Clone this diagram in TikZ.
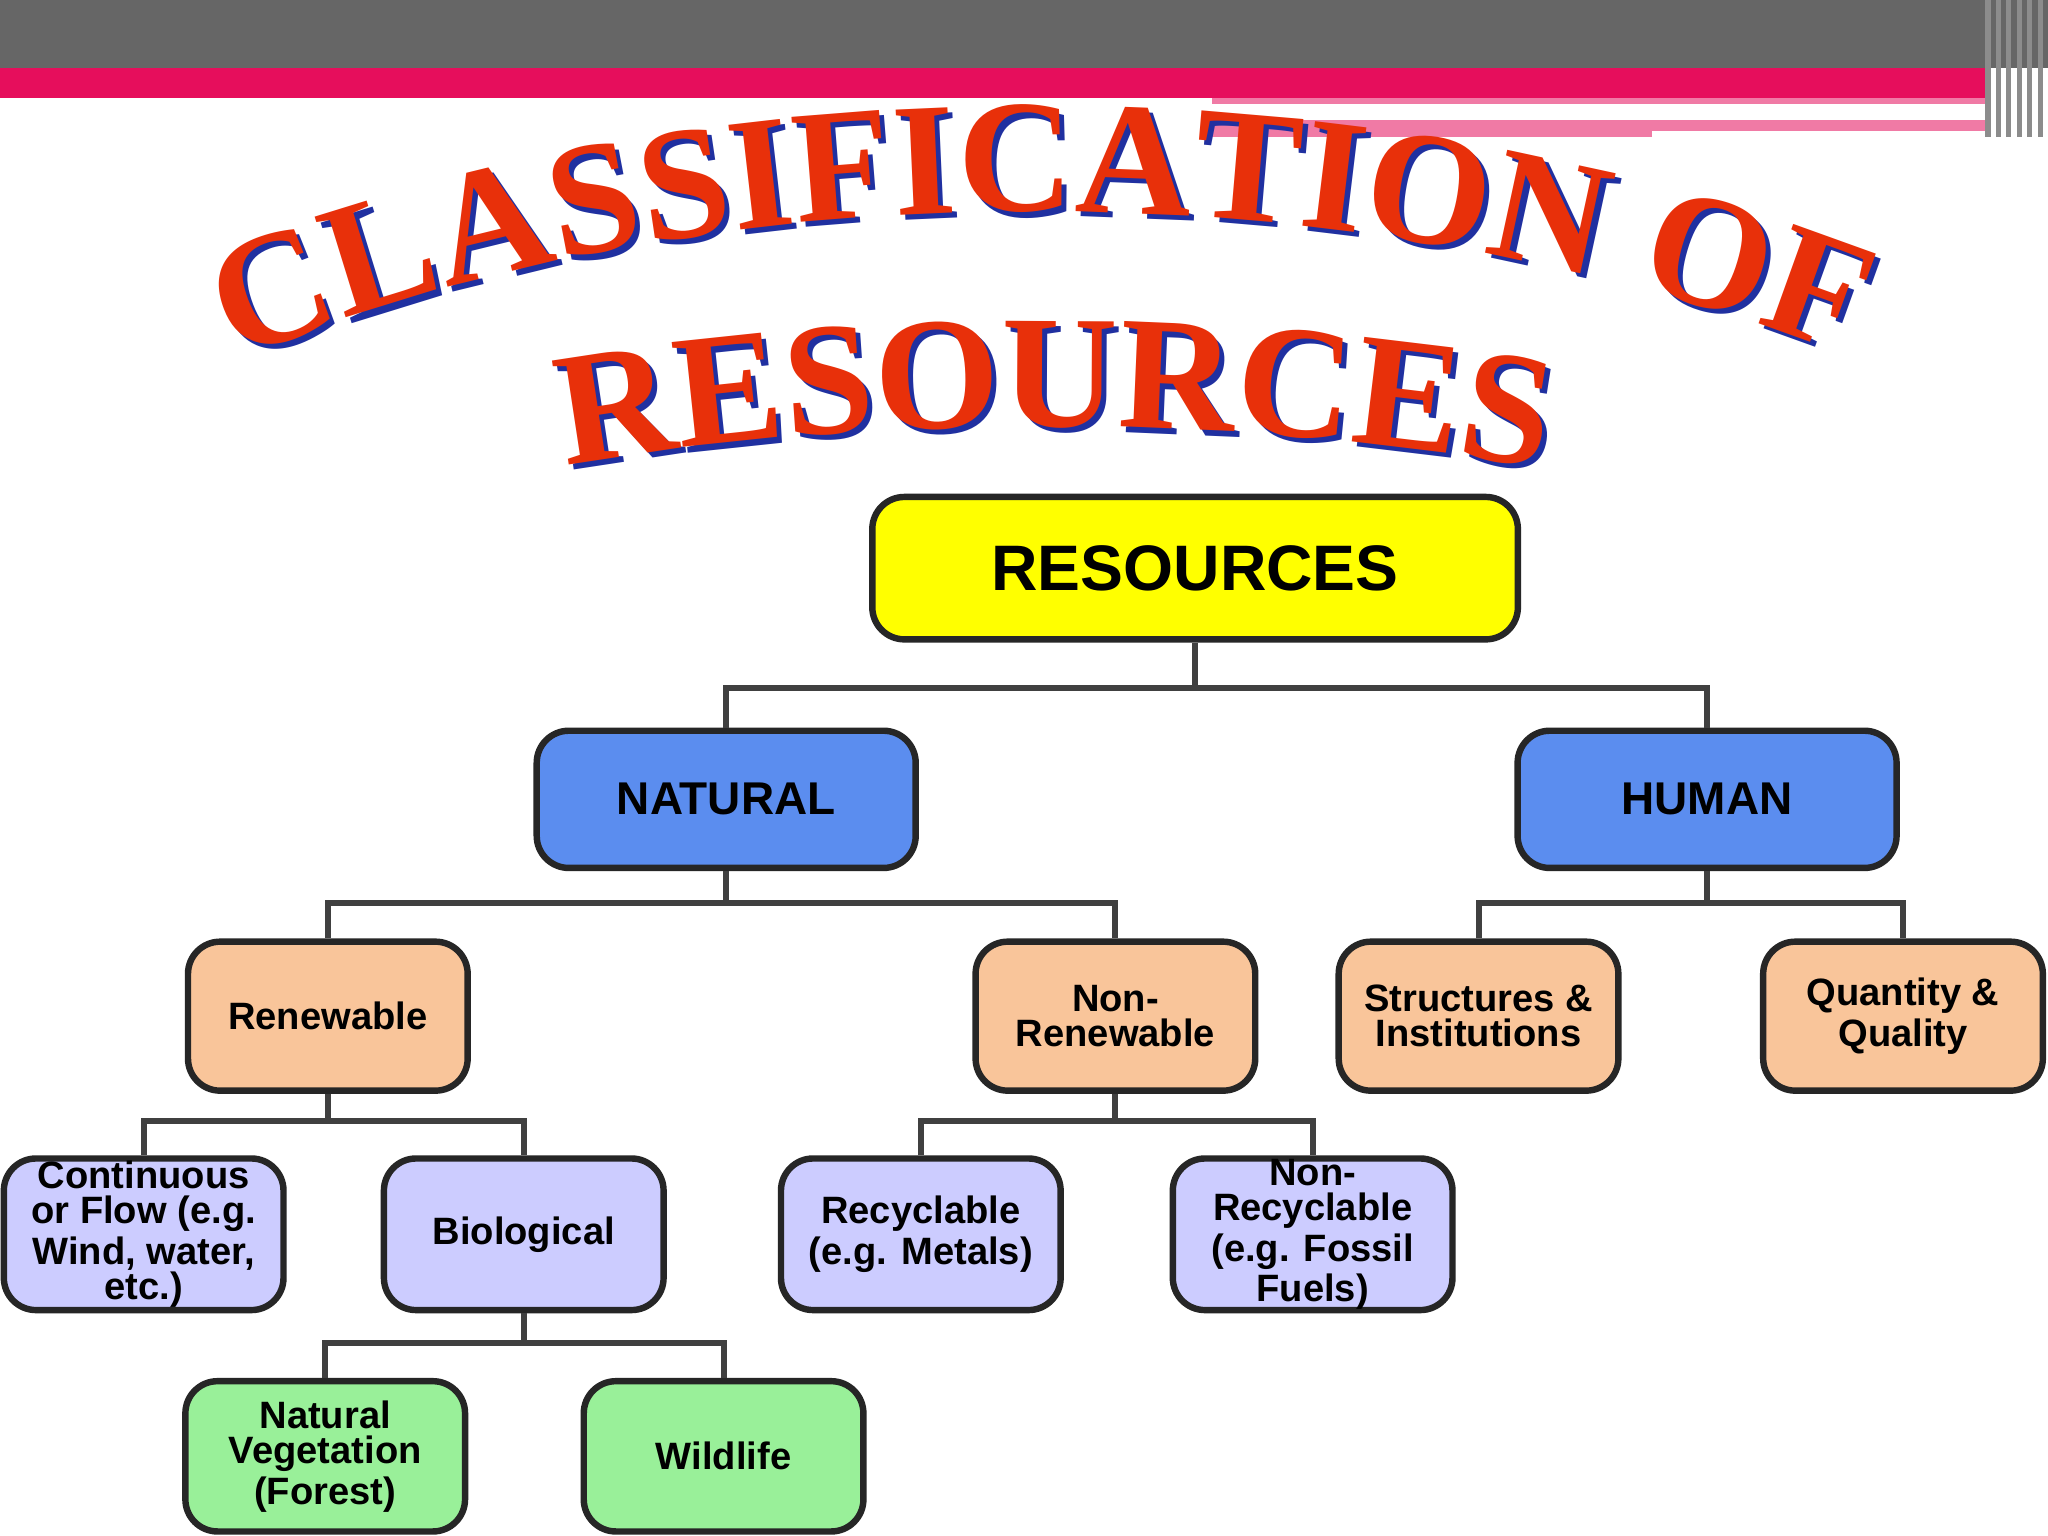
\documentclass[tikz,border=0pt]{standalone}
\usepackage{fontspec}
\setmainfont{Liberation Sans}
\newfontfamily\titlefont{Liberation Serif}
\usetikzlibrary{decorations.text}
\definecolor{barpink}{HTML}{E60E5C}
\definecolor{lightpink}{HTML}{F07AA5}
\definecolor{yel}{HTML}{FFFF00}
\definecolor{blu}{HTML}{5B8DEF}
\definecolor{ora}{HTML}{F9C59A}
\definecolor{lav}{HTML}{CCCCFF}
\definecolor{grn}{HTML}{99F099}
\definecolor{ttl}{HTML}{E8300A}
\definecolor{ttlb}{HTML}{2030A0}
\begin{document}
\begin{tikzpicture}[x=0.01cm,y=-0.01cm,
 box/.style={draw=black!85,line width=1.4pt,rounded corners=7pt,align=center,font=\bfseries\fontsize{8.3}{7.7}\selectfont,inner sep=0pt},
 lvl1/.style={box,fill=blu,minimum width=2.9cm,minimum height=1.05cm,font=\bfseries\fontsize{10}{11}\selectfont},
 lvl2/.style={box,fill=ora,minimum width=2.14cm,minimum height=1.14cm},
 lvl3/.style={box,fill=lav,minimum width=2.14cm,minimum height=1.16cm},
 lvl4/.style={box,fill=grn,minimum width=2.14cm,minimum height=1.15cm},
 conn/.style={draw=black!75,line width=1.3pt}]
\useasboundingbox (0,0) rectangle (1568,1176);
\fill[white] (0,0) rectangle (1568,1176);
% header
\fill[black!60] (0,0) rectangle (1568,52);
\fill[barpink] (0,52) rectangle (1520,75);
\fill[lightpink] (928,75) rectangle (1520,80);
\fill[lightpink] (928,92) rectangle (1520,105);
\fill[white] (928,86) rectangle (1452,90);
\fill[white] (1265,100) rectangle (1520,106);
\foreach \x in {1520,1528,1536,1544,1552,1560}{\fill[black!45] (\x,0) rectangle (\x+4,105);}
% title
\foreach \c/\d in {ttlb/4,ttl/0}{
\path[decorate,decoration={text along path,text align=center,
 text format delimiters={|}{|},
 text={|\titlefont\bfseries\fontsize{35}{35}\selectfont\color{\c}|CLASSIFICATION OF}}]
 (150+\d,290+\d) .. controls (520+\d,120+\d) and (1050+\d,120+\d) .. (1445+\d,285+\d);
\path[decorate,decoration={text along path,text align=center,
 text format delimiters={|}{|},
 text={|\titlefont\bfseries\fontsize{35}{35}\selectfont\color{\c}|RESOURCES}}]
 (415+\d,360+\d) .. controls (650+\d,315+\d) and (950+\d,315+\d) .. (1200+\d,362+\d);}
% nodes
\node[box,fill=yel,minimum width=4.94cm,minimum height=1.09cm,font=\bfseries\fontsize{14}{16}\selectfont] (res) at (915,435) {RESOURCES};
\node[lvl1] (nat) at (556,612) {NATURAL};
\node[lvl1] (hum) at (1307,612) {HUMAN};
\node[lvl2] (ren) at (251,778) {Renewable};
\node[lvl2] (nren) at (854,778) {Non-\\Renewable};
\node[lvl2] (str) at (1132,778) {Structures \&\\Institutions};
\node[lvl2] (qua) at (1457,778) {Quantity \&\\Quality};
\node[lvl3] (con) at (110,945) {Continuous\\or Flow (e.g.\\Wind, water,\\etc.)};
\node[lvl3] (bio) at (401,945) {Biological};
\node[lvl3] (rec) at (705,945) {Recyclable\\(e.g. Metals)};
\node[lvl3] (nrec) at (1005,945) {Non-\\Recyclable\\(e.g. Fossil\\Fuels)};
\node[lvl4] (veg) at (249,1115) {Natural\\Vegetation\\(Forest)};
\node[lvl4] (wild) at (554,1115) {Wildlife};
% connectors
\foreach \p/\a/\b/\y in {res/nat/hum/527,nat/ren/nren/691,hum/str/qua/691,ren/con/bio/858,nren/rec/nrec/858,bio/veg/wild/1028}{
 \draw[conn] (\p.south) -- (\p.south |- 0,\y);
 \draw[conn] (\a.north) |- (\b.north |- 0,\y) -- (\b.north);}
\end{tikzpicture}
\end{document}
